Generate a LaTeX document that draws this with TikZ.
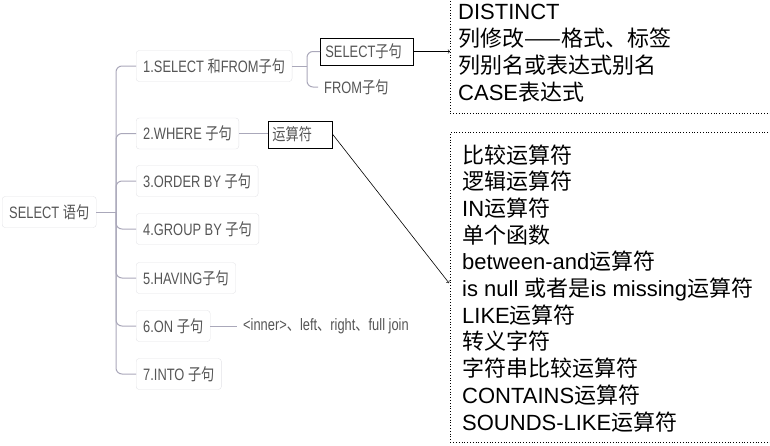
\documentclass[tikz,border=0pt]{standalone}
\usepackage{fontspec}
\setmainfont{Liberation Sans}
\newfontfamily\cjk{Noto Sans CJK SC}
\newfontfamily\mapfont[FakeStretch=0.78]{Liberation Sans}
\newfontfamily\mapcjk[FakeStretch=0.8]{Noto Sans CJK SC}
\newcommand{\zh}[1]{{\cjk #1}}
\newcommand{\mz}[1]{{\mapcjk #1}}

\definecolor{mapgray}{RGB}{85,85,85}
\definecolor{linegray}{RGB}{170,168,186}
\definecolor{boxgray}{RGB}{226,226,230}

\tikzset{
  mapbox/.style={draw=boxgray, rounded corners=3pt, text=mapgray, anchor=west,
    inner xsep=7pt, minimum height=31pt, font=\mapfont\fontsize{16.5}{19}\selectfont},
  maptext/.style={text=mapgray, anchor=west, inner xsep=6pt,
    font=\mapfont\fontsize{16.5}{19}\selectfont},
  tagbox/.style={draw=black, line width=0.8pt, text=mapgray, anchor=west, align=left,
    inner xsep=5pt, minimum height=27pt, font=\mapfont\fontsize{16.5}{19}\selectfont},
  conn/.style={draw=linegray, line width=1pt, rounded corners=6pt},
  pointer/.style={draw=black, line width=0.6pt, ->},
  listbox/.style={draw=black, dotted, line width=0.8pt, anchor=north west,
    inner sep=0pt, minimum width=330pt},
  listline/.style={anchor=base west, inner sep=0pt, font=\fontsize{22}{27}\selectfont},
}

\begin{document}
\begin{tikzpicture}[x=1pt, y=-1pt]
\useasboundingbox (0,0) rectangle (770,445);
\clip (0,0) rectangle (770,445);

% root and clauses
\node[mapbox] (root) at (2,212) {SELECT \mz{语句}};
\coordinate (hub) at (116,212);
\node[mapbox] (c1) at (136,66) {1.SELECT \mz{和}FROM\mz{子句}};
\node[mapbox] (c2) at (136,133.5) {2.WHERE \mz{子句}};
\node[mapbox] (c3) at (136,181) {3.ORDER BY \mz{子句}};
\node[mapbox] (c4) at (136,229) {4.GROUP BY \mz{子句}};
\node[mapbox] (c5) at (136,278) {5.HAVING\mz{子句}};
\node[mapbox] (c6) at (136,326) {6.ON \mz{子句}};
\node[mapbox] (c7) at (136,374) {7.INTO \mz{子句}};

\draw[conn] (root.east) -- (hub);
\foreach \i in {1,...,7}
  \draw[conn] (hub) |- (c\i.west);

% sub items
\coordinate (fork) at (307,66);
\node[tagbox, text width=83pt] (selc) at (320,51.5) {SELECT\mz{子句}};
\node[maptext] (fromc) at (318,87) {FROM\mz{子句}};
\draw[conn] (c1.east) -- (fork);
\draw[conn] (fork) |- (selc.west);
\draw[conn] (fork) |- (fromc.west);

\node[tagbox, text width=56pt, inner xsep=4pt] (ops) at (268,134.5) {\mz{运算符}};
\draw[conn] (c2.east) -- (c2.east -| ops.west);

\node[maptext] (joins) at (237,326) {<inner>\mz{、}left\mz{、}right\mz{、}full join};
\draw[conn] (c6.east) -- (joins.west);

% dotted lists
\node[listbox, minimum height=118pt] (cols) at (450,-5) {};
\foreach \t [count=\i] in {DISTINCT, \zh{列修改——格式、标签},
    \zh{列别名或表达式别名}, CASE\zh{表达式}}
  \node[listline] (col\i) at (458,{19+27*(\i-1)}) {\t};

\node[listbox, minimum height=310pt] (oplist) at (450,132) {};
\foreach \t [count=\i] in {\zh{比较运算符}, \zh{逻辑运算符}, IN\zh{运算符},
    \zh{单个函数}, between-and\zh{运算符}, is null \zh{或者是}is missing\zh{运算符},
    LIKE\zh{运算符}, \zh{转义字符}, \zh{字符串比较运算符}, CONTAINS\zh{运算符},
    SOUNDS-LIKE\zh{运算符}}
  \node[listline] (op\i) at (462,{163+26.7*(\i-1)}) {\t};

% pointers
\coordinate (optip) at (449,283);
\draw[pointer] (selc.east) -- (selc.east -| cols.west);
\draw[pointer] (ops.east) -- (optip);
\end{tikzpicture}
\end{document}
